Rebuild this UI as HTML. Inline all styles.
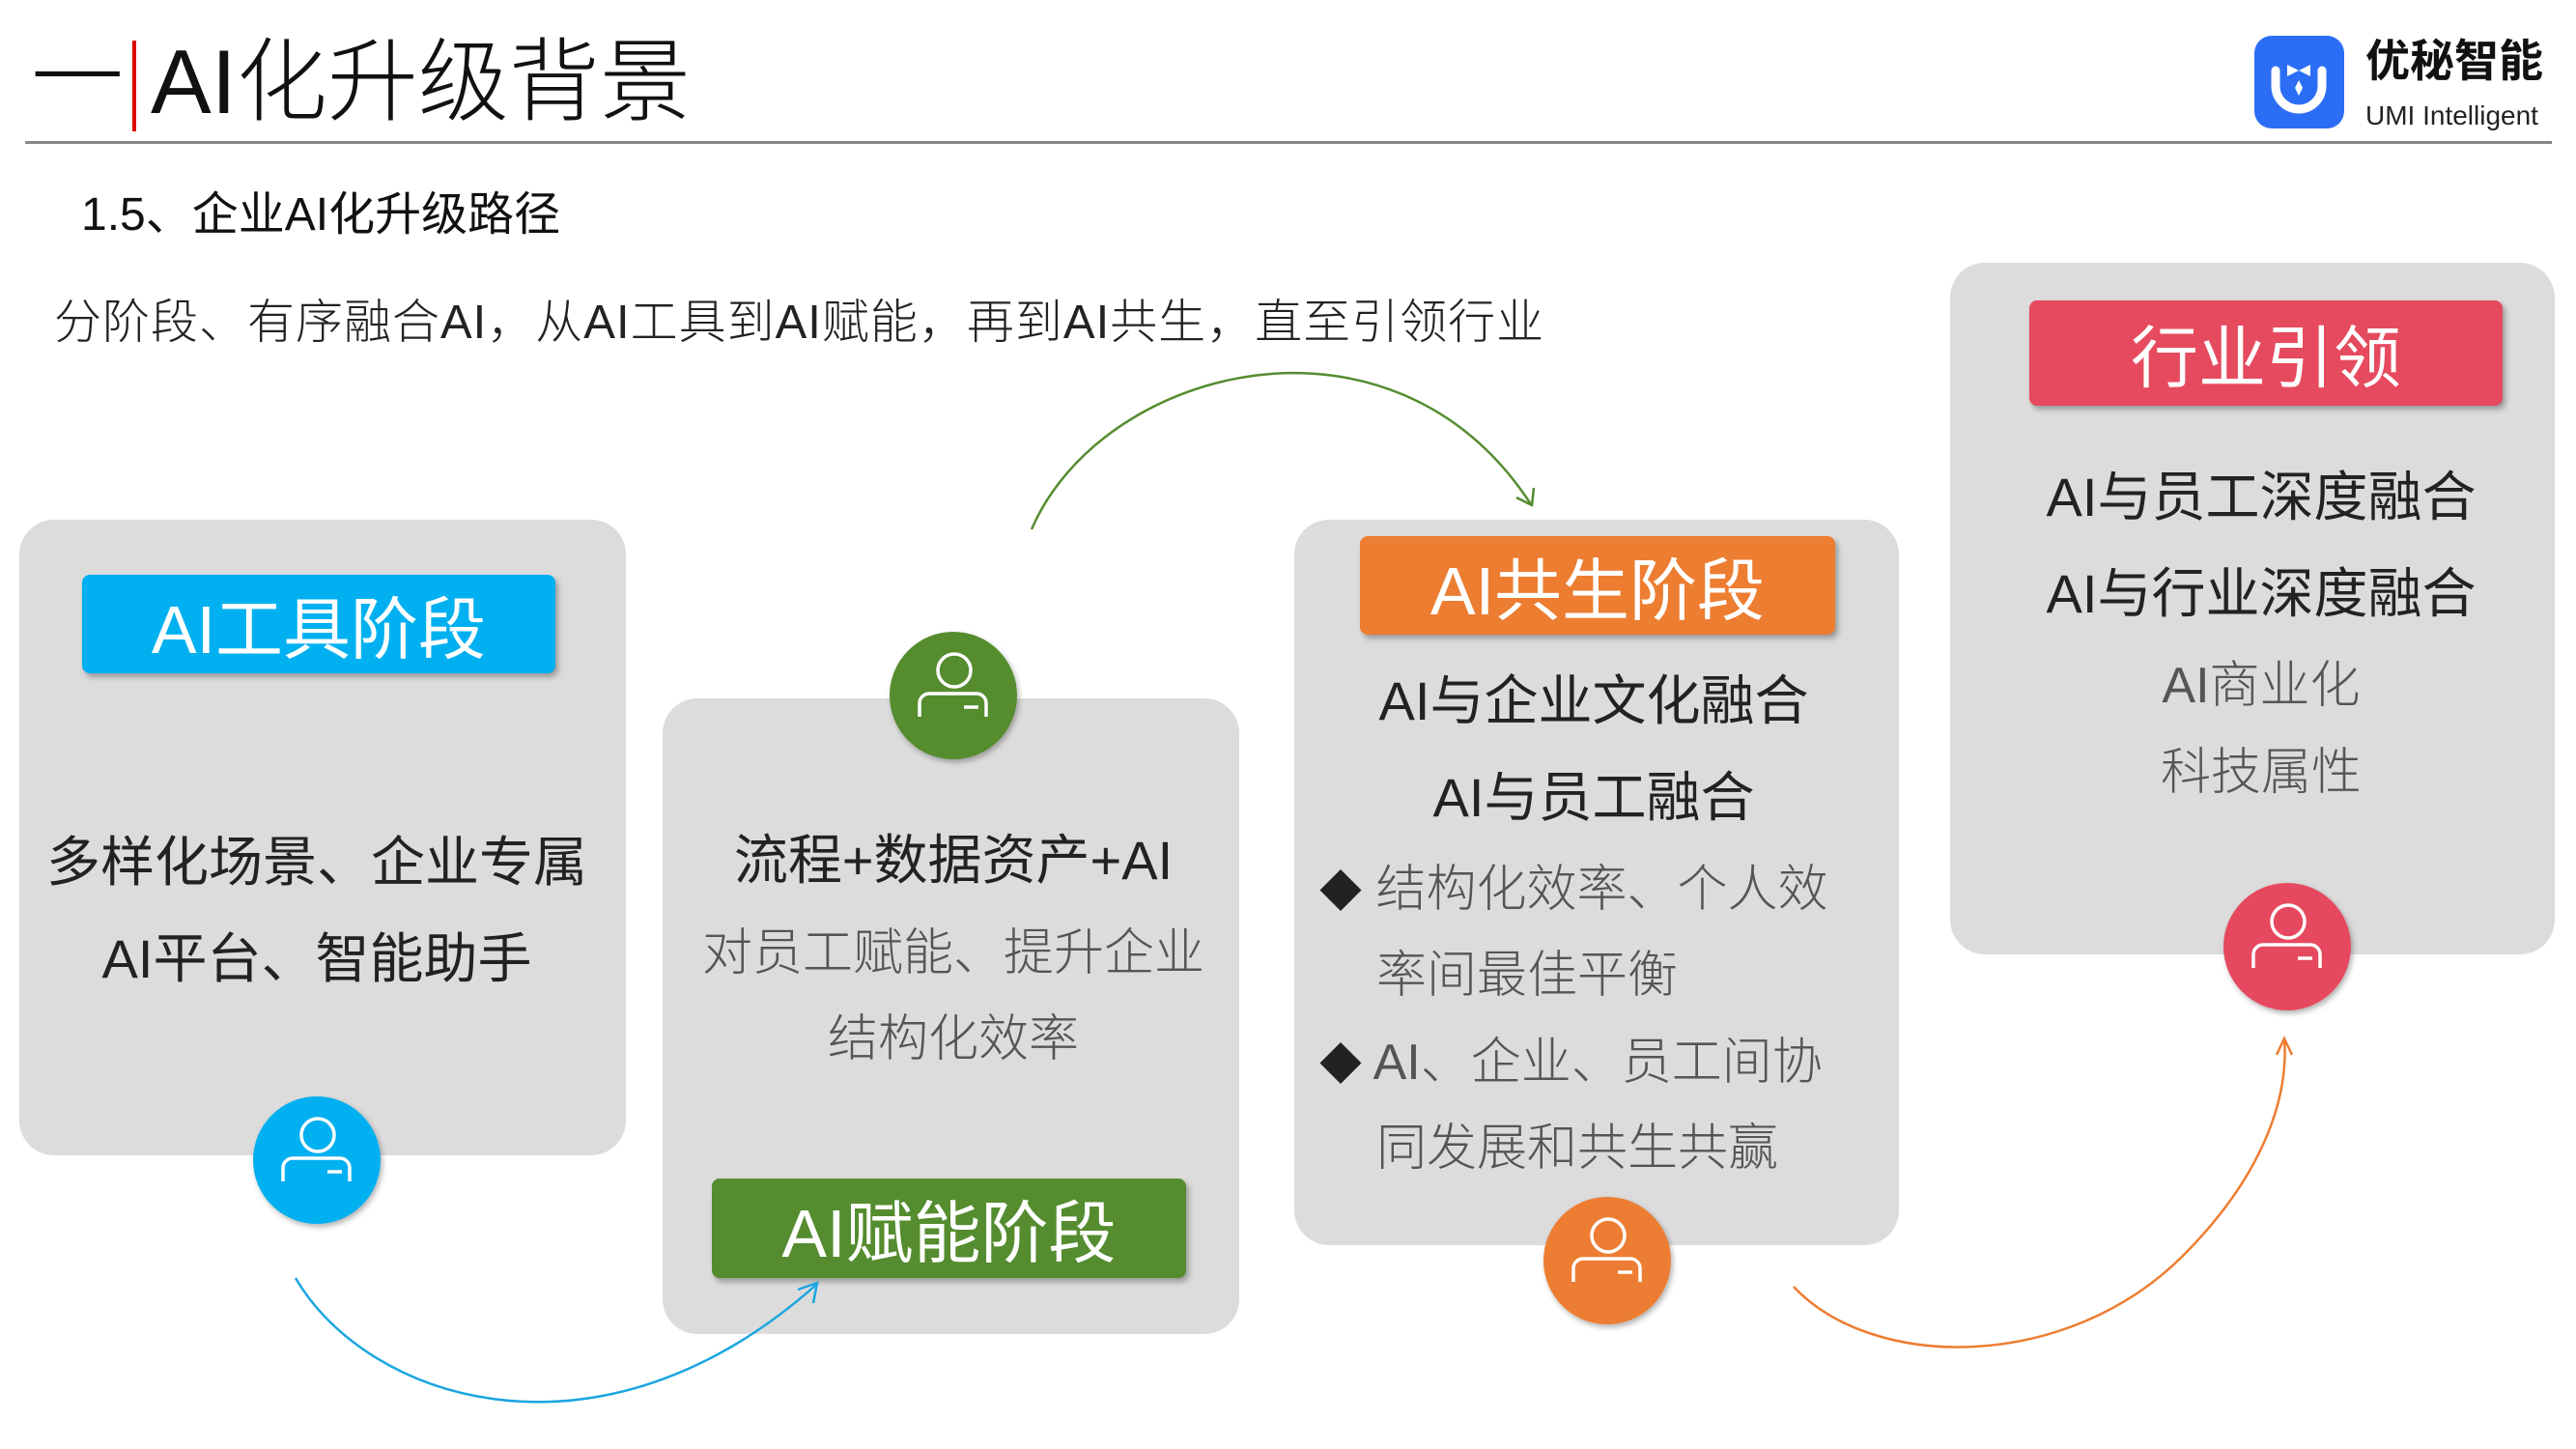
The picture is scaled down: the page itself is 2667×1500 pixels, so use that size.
<!DOCTYPE html>
<html><head><meta charset="utf-8">
<style>
body{margin:0;width:2667px;height:1500px;background:#fff;position:relative;overflow:hidden;font-family:"Liberation Sans","Noto Sans CJK SC",sans-serif;}
.t{position:absolute;white-space:nowrap;line-height:1;}
.c{transform:translateX(-50%);}
.box{position:absolute;background:#dcdcdc;border-radius:36px;}
.lab{position:absolute;border-radius:8px;color:#fff;font-size:70px;display:flex;align-items:center;justify-content:center;box-shadow:3px 4px 6px rgba(0,0,0,0.3);}
.d{color:#222;font-size:56px;}
.g{color:#555;font-size:52px;font-weight:300;}
</style></head><body>
<div class="t" style="left:32px;top:34px;font-size:96px;color:#111;font-weight:300;">一</div>
<div style="position:absolute;left:137px;top:42px;width:4px;height:94px;background:#d00;"></div>
<div class="t" style="left:156px;top:38px;font-size:94px;color:#111;font-weight:300;">AI化升级背景</div>
<div style="position:absolute;left:26px;top:146px;width:2616px;height:3px;background:#888;"></div>
<div style="position:absolute;left:2334px;top:37px;width:93px;height:96px;background:#2b6ef5;border-radius:18px;"></div>
<svg style="position:absolute;left:2334px;top:37px" width="93" height="96"><path d="M22 36 V52 A24 24 0 0 0 70 52 V36" stroke="#fff" stroke-width="9" fill="none" stroke-linecap="round"/><path d="M34 30 L46 36 L58 30 L58 42 L46 36 L34 42Z" fill="#fff"/><path d="M46 46 L50 54 L46 62 L42 54Z" fill="#fff"/></svg>
<div class="t" style="left:2449px;top:40px;font-size:46px;font-weight:bold;color:#111;">优秘智能</div>
<div class="t" style="left:2449px;top:106px;font-size:28px;color:#222;">UMI Intelligent</div>
<div class="t" style="left:84px;top:199px;font-size:48px;color:#111;">1.5、企业AI化升级路径</div>
<div class="t" style="left:56px;top:310px;font-size:49px;color:#222;font-weight:300;letter-spacing:1px;">分阶段、有序融合AI，从AI工具到AI赋能，再到AI共生，直至引领行业</div>

<div class="box" style="left:20px;top:538px;width:628px;height:658px;"></div>
<div class="box" style="left:686px;top:723px;width:597px;height:658px;"></div>
<div class="box" style="left:1340px;top:538px;width:626px;height:751px;"></div>
<div class="box" style="left:2019px;top:272px;width:626px;height:716px;"></div>

<div class="lab" style="left:85px;top:595px;width:490px;height:102px;background:#00b0f0;">AI工具阶段</div>
<div class="lab" style="left:737px;top:1220px;width:491px;height:103px;background:#548c2f;">AI赋能阶段</div>
<div class="lab" style="left:1408px;top:555px;width:492px;height:102px;background:#ed7d31;">AI共生阶段</div>
<div class="lab" style="left:2101px;top:311px;width:490px;height:109px;background:#e64a5e;">行业引领</div>

<div class="t c d" style="left:328px;top:865px;">多样化场景、企业专属</div>
<div class="t c d" style="left:328px;top:965px;">AI平台、智能助手</div>
<div class="t c d" style="left:987px;top:863px;">流程+数据资产+AI</div>
<div class="t c g" style="left:987px;top:961px;">对员工赋能、提升企业</div>
<div class="t c g" style="left:987px;top:1050px;">结构化效率</div>
<div class="t c d" style="left:1650px;top:698px;">AI与企业文化融合</div>
<div class="t c d" style="left:1650px;top:798px;">AI与员工融合</div>
<div class="t g" style="left:1366px;top:895px;"><span style="color:#222;font-size:44px;">◆</span> 结构化效率、个人效</div>
<div class="t g" style="left:1425px;top:984px;">率间最佳平衡</div>
<div class="t g" style="left:1366px;top:1074px;"><span style="color:#222;font-size:44px;">◆</span> AI、企业、员工间协</div>
<div class="t g" style="left:1425px;top:1163px;">同发展和共生共赢</div>
<div class="t c d" style="left:2341px;top:487px;">AI与员工深度融合</div>
<div class="t c d" style="left:2341px;top:587px;">AI与行业深度融合</div>
<div class="t c g" style="left:2341px;top:684px;">AI商业化</div>
<div class="t c g" style="left:2341px;top:774px;">科技属性</div>

<svg style="position:absolute;left:0;top:0" width="2667" height="1500">
<defs><filter id="sh"><feDropShadow dx="2" dy="3" stdDeviation="3" flood-opacity="0.3"/></filter>
<g id="p" fill="none" stroke="#fff" stroke-width="3.5"><circle cx="1" cy="-26" r="17"/><path d="M-35 22 V8 A10 10 0 0 1 -25 -2 H24 A10 10 0 0 1 34 8 V22"/><path d="M11 12 H26"/></g></defs>
<circle cx="328" cy="1201" r="66" fill="#00b0f0" filter="url(#sh)"/><use href="#p" x="328" y="1201"/>
<circle cx="987" cy="720" r="66" fill="#548c2f" filter="url(#sh)"/><use href="#p" x="987" y="720"/>
<circle cx="1664" cy="1305" r="66" fill="#ed7d31" filter="url(#sh)"/><use href="#p" x="1664" y="1305"/>
<circle cx="2368" cy="980" r="66" fill="#e64a5e" filter="url(#sh)"/><use href="#p" x="2368" y="980"/>
<path d="M306 1323 C380 1450 620 1530 845 1330" stroke="#1aa6e0" stroke-width="2.5" fill="none"/>
<path d="M826 1335 L846 1328 L842 1349" stroke="#1aa6e0" stroke-width="2.5" fill="none"/>
<path d="M1068 548 C1140 380 1440 300 1585 522" stroke="#548c2f" stroke-width="2.5" fill="none"/>
<path d="M1570 515 L1586 523 L1588 505" stroke="#548c2f" stroke-width="2.5" fill="none"/>
<path d="M1857 1332 C1940 1420 2140 1420 2260 1300 C2340 1220 2370 1140 2365 1075" stroke="#ed7d31" stroke-width="2.5" fill="none"/>
<path d="M2357 1092 L2365 1075 L2373 1092" stroke="#ed7d31" stroke-width="2.5" fill="none"/>
</svg>
</body></html>
